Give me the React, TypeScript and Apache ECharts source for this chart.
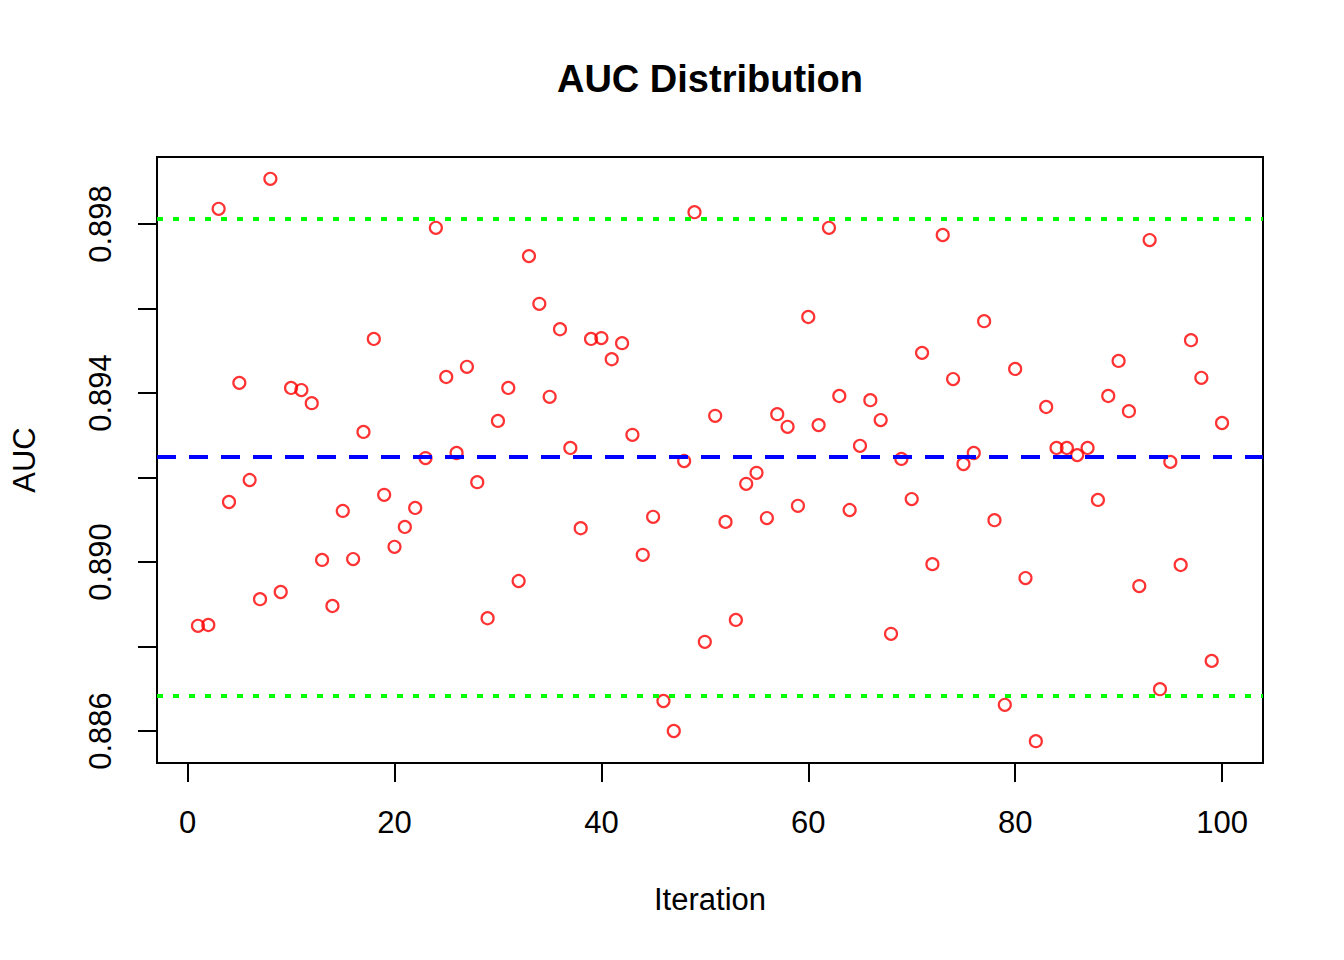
import React, { useEffect, useRef } from 'react';
import * as echarts from 'echarts';

// AUC per iteration (1..100)
const iterations: number[] = Array.from({ length: 100 }, (_, i) => i + 1);
const aucValues: number[] = [
  0.88849, 0.88851, 0.89836, 0.89142, 0.89424, 0.89194, 0.88912, 0.89907, 0.88929, 0.89412,
  0.89407, 0.89376, 0.89005, 0.88896, 0.89121, 0.89007, 0.89308, 0.89528, 0.89159, 0.89036,
  0.89083, 0.89128, 0.89246, 0.89791, 0.89438, 0.89258, 0.89462, 0.89189, 0.88867, 0.89334,
  0.89412, 0.88955, 0.89724, 0.89611, 0.89391, 0.89551, 0.8927, 0.8908, 0.89528, 0.8953,
  0.8948, 0.89518, 0.89301, 0.89017, 0.89107, 0.88671, 0.886, 0.89239, 0.89828, 0.88811,
  0.89346, 0.89095, 0.88863, 0.89185, 0.89211, 0.89104, 0.8935, 0.8932, 0.89133, 0.8958,
  0.89324, 0.89791, 0.89393, 0.89123, 0.89275, 0.89383, 0.89336, 0.8883, 0.89244, 0.89149,
  0.89495, 0.88995, 0.89774, 0.89433, 0.89232, 0.89258, 0.8957, 0.89099, 0.88662, 0.89457,
  0.88962, 0.88576, 0.89367, 0.8927, 0.8927, 0.89253, 0.8927, 0.89147, 0.89393, 0.89476,
  0.89357, 0.88943, 0.89762, 0.88699, 0.89237, 0.88993, 0.89525, 0.89436, 0.88766, 0.89329,
];

// reference lines
const meanAuc = 0.89249;
const upperBound = 0.89812;
const lowerBound = 0.88683;

// axis ticks
const xTicks = [0, 20, 40, 60, 80, 100];
const yTicks = [0.886, 0.888, 0.89, 0.892, 0.894, 0.896, 0.898];
const yLabels = [0.886, 0.89, 0.894, 0.898];

const FONT = 'Liberation Sans, Arial, sans-serif';

const App = () => {
  const chartRef = useRef<HTMLDivElement>(null);

  useEffect(() => {
    document.body.style.margin = '0';
    const chart = echarts.init(chartRef.current!, null, { renderer: 'svg' });

    chart.setOption({
      animation: false,
      backgroundColor: '#ffffff',
      title: {
        text: 'AUC Distribution',
        left: 705,
        top: 55,
        textAlign: 'center',
        textStyle: { fontFamily: FONT, fontSize: 38, fontWeight: 'bold', color: '#000' },
      },
      grid: {
        left: 157,
        right: 81,
        top: 157,
        bottom: 197,
        show: true,
        borderColor: '#000',
        borderWidth: 2,
        backgroundColor: 'transparent',
      },
      xAxis: {
        type: 'value',
        min: -2.96,
        max: 103.96,
        name: 'Iteration',
        nameLocation: 'middle',
        nameGap: 121,
        nameTextStyle: { fontFamily: FONT, fontSize: 31, color: '#000' },
        axisLine: { show: false, onZero: false },
        splitLine: { show: false },
        axisTick: {
          show: true,
          length: 19,
          customValues: xTicks,
          lineStyle: { color: '#000', width: 2 },
        },
        axisLabel: {
          customValues: xTicks,
          margin: 44,
          fontFamily: FONT,
          fontSize: 31,
          color: '#000',
          showMinLabel: true,
          showMaxLabel: true,
        },
      },
      yAxis: {
        type: 'value',
        min: 0.885243,
        max: 0.899586,
        name: 'AUC',
        nameLocation: 'middle',
        nameGap: 117,
        nameRotate: 90,
        nameTextStyle: { fontFamily: FONT, fontSize: 31, color: '#000' },
        axisLine: { show: false, onZero: false },
        splitLine: { show: false },
        axisTick: {
          show: true,
          length: 19,
          customValues: yTicks,
          lineStyle: { color: '#000', width: 2 },
        },
        axisLabel: {
          customValues: yLabels,
          rotate: 90,
          margin: 57,
          fontFamily: FONT,
          fontSize: 31,
          color: '#000',
          align: 'center',
          verticalAlign: 'middle',
          formatter: (v: number) => v.toFixed(3),
        },
      },
      series: [
        {
          type: 'scatter',
          data: iterations.map((it, i) => [it, aucValues[i]]),
          symbol: 'circle',
          symbolSize: 12,
          itemStyle: { color: 'rgba(0,0,0,0)', borderColor: '#ff0000', borderWidth: 2.2 },
          markLine: {
            silent: true,
            symbol: 'none',
            precision: 6,
            label: { show: false },
            data: [
              { yAxis: meanAuc, lineStyle: { color: '#0000ff', width: 4, type: [19, 13] } },
              { yAxis: upperBound, lineStyle: { color: '#00ff00', width: 4, type: [6, 10] } },
              { yAxis: lowerBound, lineStyle: { color: '#00ff00', width: 4, type: [6, 10] } },
            ],
          },
        },
      ],
    });

    return () => {
      chart.dispose();
    };
  }, []);

  return <div style={{ width: '1344px', height: '960px' }} ref={chartRef}></div>;
};
export default App;
